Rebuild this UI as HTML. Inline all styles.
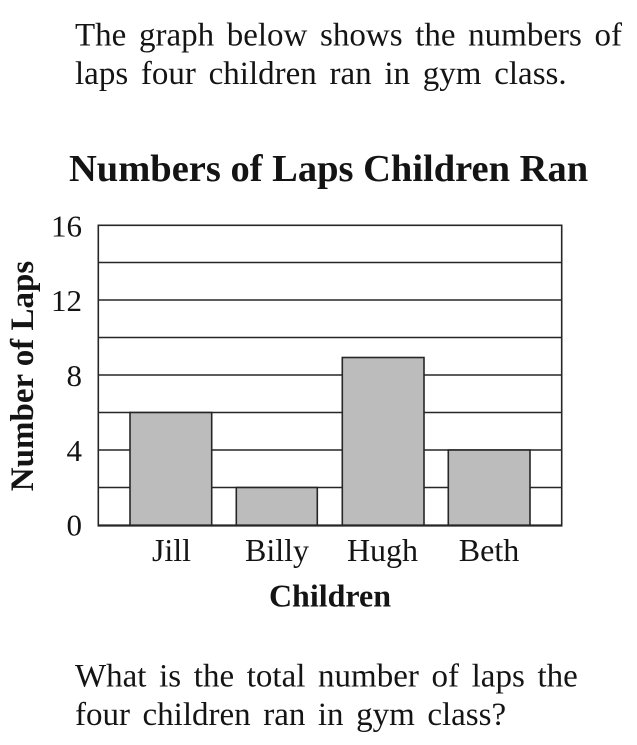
<!DOCTYPE html>
<html>
<head>
<meta charset="utf-8">
<style>
  html, body { margin:0; padding:0; background:#ffffff; }
  body { width:637px; height:745px; overflow:hidden; }
  svg { display:block; }
  .t { font-family:"Liberation Serif", "Times New Roman", serif; fill:#141414; }
  .b { font-weight:bold; }
</style>
</head>
<body>
<svg width="637" height="745" viewBox="0 0 637 745" xmlns="http://www.w3.org/2000/svg">
  <rect x="0" y="0" width="637" height="745" fill="#ffffff"/>

  <!-- Intro text -->
  <text class="t" x="75" y="45.7" font-size="33" style="word-spacing:4.4px">The graph below shows the numbers of</text>
  <text class="t" x="75" y="84" font-size="33" style="word-spacing:4.5px">laps four children ran in gym class.</text>

  <!-- Title -->
  <text class="t b" x="69" y="181" font-size="38.5">Numbers of Laps Children Ran</text>

  <!-- Gridlines -->
  <g stroke="#262626" stroke-width="1.6">
    <line x1="98.3" y1="262.5" x2="561.7" y2="262.5"/>
    <line x1="98.3" y1="300" x2="561.7" y2="300"/>
    <line x1="98.3" y1="337.5" x2="561.7" y2="337.5"/>
    <line x1="98.3" y1="375" x2="561.7" y2="375"/>
    <line x1="98.3" y1="412.5" x2="561.7" y2="412.5"/>
    <line x1="98.3" y1="450" x2="561.7" y2="450"/>
    <line x1="98.3" y1="487.5" x2="561.7" y2="487.5"/>
  </g>

  <!-- Bars -->
  <g fill="#bdbcbd" stroke="#262626" stroke-width="1.6">
    <rect x="130" y="412.5" width="81.7" height="113"/>
    <rect x="236.3" y="487.5" width="81" height="38"/>
    <rect x="342.3" y="357.5" width="81.7" height="168"/>
    <rect x="448.3" y="450" width="81.7" height="75.5"/>
  </g>

  <!-- Frame -->
  <rect x="98.3" y="225.3" width="463.4" height="300" fill="none" stroke="#262626" stroke-width="1.6"/>
  <line x1="97.5" y1="525.5" x2="562.5" y2="525.5" stroke="#262626" stroke-width="2.2"/>

  <!-- Y tick labels -->
  <g class="t" font-size="31" text-anchor="end">
    <text x="82" y="236.5">16</text>
    <text x="82" y="311">12</text>
    <text x="82" y="386">8</text>
    <text x="82" y="461">4</text>
    <text x="82" y="535.5">0</text>
  </g>

  <!-- Y axis label -->
  <text class="t b" font-size="33" text-anchor="middle" transform="translate(33,376) rotate(-90)">Number of Laps</text>

  <!-- X labels -->
  <g class="t" font-size="32" text-anchor="middle">
    <text x="171.5" y="561">Jill</text>
    <text x="277" y="561">Billy</text>
    <text x="382.5" y="561">Hugh</text>
    <text x="489" y="561">Beth</text>
  </g>
  <text class="t b" x="330" y="606.5" font-size="32" text-anchor="middle">Children</text>

  <!-- Question -->
  <text class="t" x="75" y="686.7" font-size="33" style="word-spacing:4.4px">What is the total number of laps the</text>
  <text class="t" x="75" y="725" font-size="33" style="word-spacing:4.3px">four children ran in gym class?</text>
</svg>
</body>
</html>
